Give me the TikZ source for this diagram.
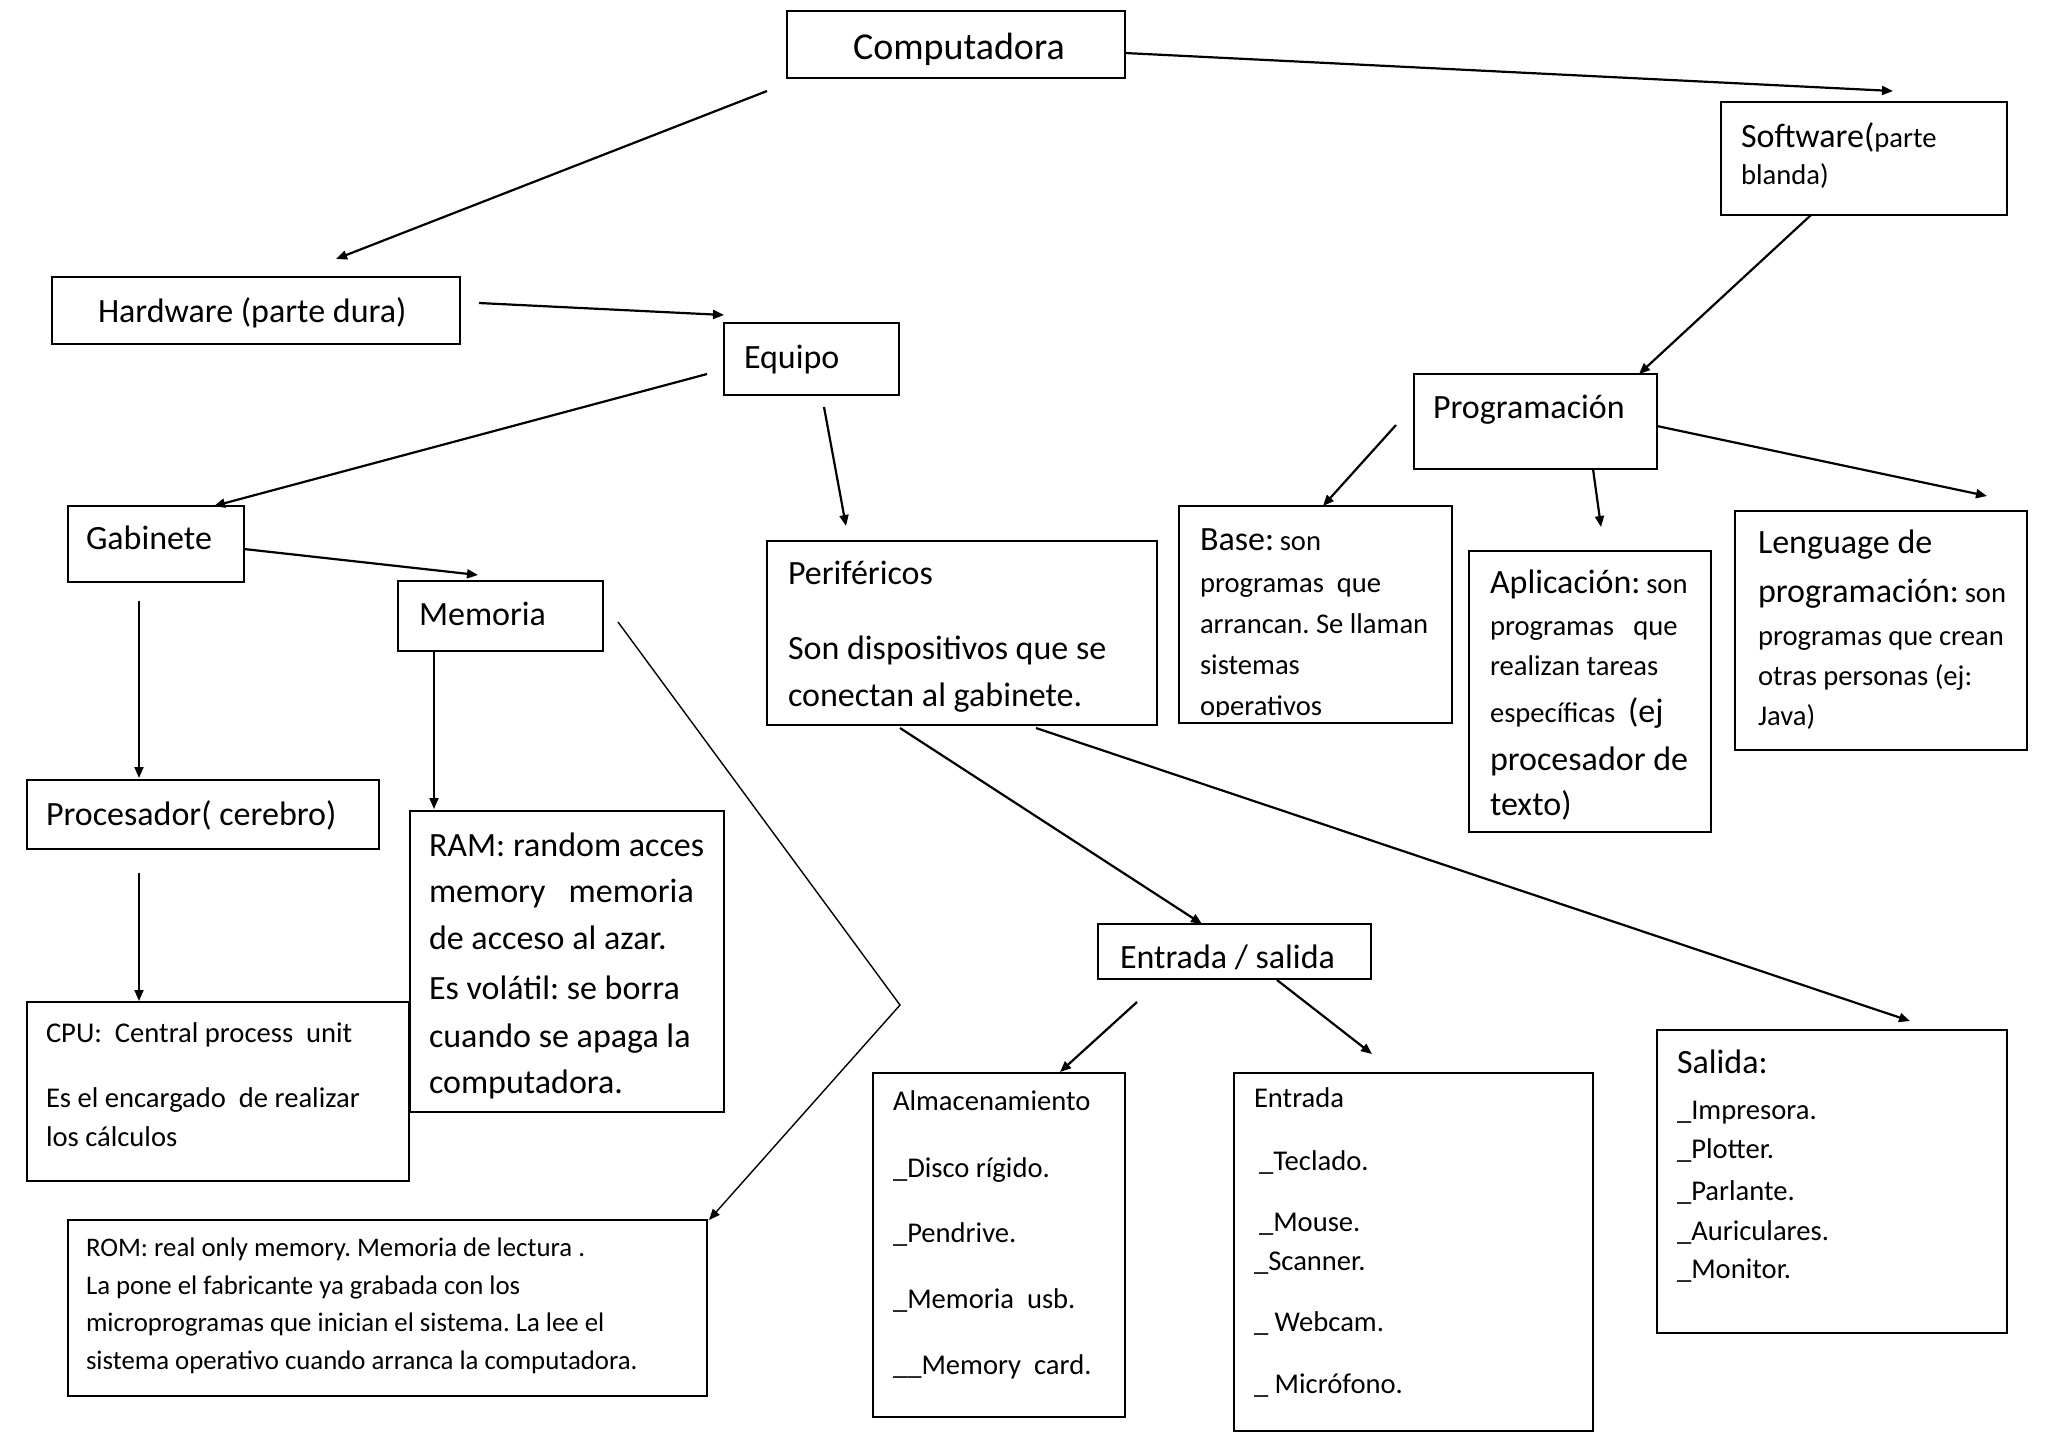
\documentclass[tikz,border=0pt]{standalone}
\usepackage{fontspec}
\setmainfont{Carlito}
\usetikzlibrary{arrows.meta}
\frenchspacing
\newcommand\mkbox[5]{\node[boxst, anchor=north west, minimum width={(#4-#2)*0.5pt}, minimum height={(#5-#3)*0.5pt}] (#1) at (#2,#3) {};}
\begin{document}
\frenchspacing
\begin{tikzpicture}[x=0.5pt,y=-0.5pt,
  boxst/.style={draw=black, line width=1pt, inner sep=0pt, outer sep=0pt},
  txt/.style={anchor=base west, inner sep=0pt, outer sep=0pt},
  big/.style={txt, font=\fontsize{17}{20}\selectfont},
  sm/.style={txt, font=\fontsize{14.3}{17}\selectfont},
  rom/.style={txt, font=\fontsize{13.4}{16}\selectfont},
  arr/.style={line width=1.1pt, -{Triangle[length=5.5pt,width=4.5pt]}},
  thinarr/.style={line width=0.7pt, -{Triangle[length=5.5pt,width=4.5pt]}},
]
\fill[white] (0,0) rectangle (2048,1448);
\useasboundingbox (0,0) rectangle (2048,1448);

% boxes
\mkbox{comp}{787}{11}{1125}{78}
\mkbox{hard}{52}{277}{460}{344}
\mkbox{equipo}{724}{323}{899}{395}
\mkbox{gab}{68}{506}{244}{582}
\mkbox{mem}{398}{581}{603}{651}
\mkbox{peri}{767}{541}{1157}{725}
\mkbox{soft}{1721}{102}{2007}{215}
\mkbox{prog}{1414}{374}{1657}{469}
\mkbox{base}{1179}{506}{1452}{723}
\mkbox{aplic}{1469}{551}{1711}{832}
\mkbox{leng}{1735}{511}{2027}{750}
\mkbox{proc}{27}{780}{379}{849}
\mkbox{ram}{410}{811}{724}{1112}
\mkbox{cpu}{27}{1002}{409}{1181}
\mkbox{rom}{68}{1220}{707}{1396}
\mkbox{alm}{873}{1073}{1125}{1417}
\mkbox{es}{1098}{924}{1371}{979}
\mkbox{ent}{1234}{1073}{1593}{1431}
\mkbox{sal}{1657}{1030}{2007}{1333}

% texts
\node[txt, font=\fontsize{19}{22}\selectfont] (tcomp) at (853,59) {Computadora};
\node[big] (thard) at (98,322) {Hardware (parte dura)};
\node[big] (tequipo) at (744,368) {Equipo};
\node[big] (tgab) at (86,549) {Gabinete};
\node[big] (tmem) at (419,625) {Memoria};
\node[big] (tperi1) at (788,584) {Periféricos};
\node[big] (tperi2) at (788,659) {Son dispositivos que se};
\node[big] (tperi3) at (788,706) {conectan al gabinete.};
\node[big] (tsoft1) at (1741,147) {Software({\fontsize{14.3}{17}\selectfont parte}};
\node[sm] (tsoft2) at (1741,184) {blanda)};
\node[big] (tprog) at (1433,418) {Programación};

\node[big] (tbase1) at (1200,550) {Base:\,{\fontsize{14.3}{17}\selectfont son}};
\node[sm] (tbase2) at (1200,592) {programas\ \ que};
\node[sm] (tbase3) at (1200,633) {arrancan. Se llaman};
\node[sm] (tbase4) at (1200,674) {sistemas};
\begin{scope}
\clip (1179,506) rectangle (1452,716);
\node[sm] (tbase5) at (1200,715) {operativos};
\end{scope}

\node[big] (tap1) at (1490,593) {Aplicación:\,{\fontsize{14.3}{17}\selectfont son}};
\node[sm] (tap2) at (1490,635) {programas\ \ \ que};
\node[sm] (tap3) at (1490,675) {realizan tareas};
\node[sm] (tap4) at (1490,722) {específicas\ \ {\fontsize{17}{20}\selectfont(ej}};
\node[big] (tap5) at (1490,770) {procesador de};
\node[big] (tap6) at (1490,815) {texto)};

\node[big] (tle1) at (1758,553) {Lenguage de};
\node[big] (tle2) at (1758,602) {programación:\,{\fontsize{14.3}{17}\selectfont son}};
\node[sm] (tle3) at (1758,645) {programas que crean};
\node[sm] (tle4) at (1758,685) {otras personas (ej:};
\node[sm] (tle5) at (1758,725) {Java)};

\node[big] (tproc) at (46,825) {Procesador( cerebro)};

\node[big] (tram1) at (429,856) {RAM: random acces};
\node[big] (tram2) at (429,902) {memory\ \ \ memoria};
\node[big] (tram3) at (429,949) {de acceso al azar.};
\node[big] (tram4) at (429,999) {Es volátil: se borra};
\node[big] (tram5) at (429,1047) {cuando se apaga la};
\node[big] (tram6) at (429,1093) {computadora.};

\node[sm] (tcpu1) at (46,1042) {CPU:\ \ Central process\ \ unit};
\node[sm] (tcpu2) at (46,1107) {Es el encargado\ \ de realizar};
\node[sm] (tcpu3) at (46,1146) {los cálculos};

\node[rom] (trom1) at (86,1256) {ROM: real only memory. Memoria de lectura .};
\node[rom] (trom2) at (86,1294) {La pone el fabricante ya grabada con los};
\node[rom] (trom3) at (86,1331) {microprogramas que inician el sistema. La lee el};
\node[rom] (trom4) at (86,1369) {sistema operativo cuando arranca la computadora.};

\node[sm] (talm1) at (893,1110) {Almacenamiento};
\node[sm] (talm2) at (893,1177) {\_Disco rígido.};
\node[sm] (talm3) at (893,1242) {\_Pendrive.};
\node[sm] (talm4) at (893,1308) {\_Memoria\ \ usb.};
\node[sm] (talm5) at (893,1374) {\_\_Memory\ \ card.};

\node[big] (tes) at (1120,968) {Entrada / salida};

\node[sm] (tent1) at (1254,1107) {Entrada};
\node[sm] (tent2) at (1259,1170) {\_Teclado.};
\node[sm] (tent3) at (1259,1231) {\_Mouse.};
\node[sm] (tent4) at (1254,1270) {\_Scanner.};
\node[sm] (tent5) at (1254,1331) {\_ Webcam.};
\node[sm] (tent6) at (1254,1393) {\_ Micrófono.};

\node[big] (tsal1) at (1677,1073) {Salida:};
\node[sm] (tsal2) at (1677,1119) {\_Impresora.};
\node[sm] (tsal3) at (1677,1158) {\_Plotter.};
\node[sm] (tsal4) at (1677,1200) {\_Parlante.};
\node[sm] (tsal5) at (1677,1240) {\_Auriculares.};
\node[sm] (tsal6) at (1677,1278) {\_Monitor.};

% connector end points
\coordinate (c1a) at (767,91);   \coordinate (c1b) at (336,259);
\coordinate (c2a) at (1125,53);  \coordinate (c2b) at (1893,91);
\coordinate (c3a) at (479,303);  \coordinate (c3b) at (724,315);
\coordinate (c4a) at (707,374);  \coordinate (c4b) at (214,506);
\coordinate (c5a) at (824,407);  \coordinate (c5b) at (846,526);
\coordinate (c6a) at (244,549);  \coordinate (c6b) at (478,575);
\coordinate (c7a) at (139,601);  \coordinate (c7b) at (139,778);
\coordinate (c8a) at (434,651);  \coordinate (c8b) at (434,809);
\coordinate (c9a) at (139,873);  \coordinate (c9b) at (139,1001);
\coordinate (c10a) at (618,622); \coordinate (c10m) at (900,1005); \coordinate (c10b) at (709,1220);
\coordinate (c11a) at (1811,215); \coordinate (c11b) at (1639,374);
\coordinate (c12a) at (1396,425); \coordinate (c12b) at (1323,506);
\coordinate (c13a) at (1593,469); \coordinate (c13b) at (1601,527);
\coordinate (c14a) at (1657,426); \coordinate (c14b) at (1987,496);
\coordinate (c15a) at (900,728);  \coordinate (c15b) at (1202,924);
\coordinate (c16a) at (1036,728); \coordinate (c16b) at (1910,1021);
\coordinate (c17a) at (1137,1002); \coordinate (c17b) at (1060,1072);
\coordinate (c18a) at (1277,980);  \coordinate (c18b) at (1372,1054);

\draw[arr] (c1a) -- (c1b);
\draw[arr] (c2a) -- (c2b);
\draw[arr] (c3a) -- (c3b);
\draw[arr] (c4a) -- (c4b);
\draw[arr] (c5a) -- (c5b);
\draw[arr] (c6a) -- (c6b);
\draw[arr, line width=0.9pt] (c7a) -- (c7b);
\draw[arr, line width=0.9pt] (c8a) -- (c8b);
\draw[arr, line width=0.9pt] (c9a) -- (c9b);
\draw[thinarr] (c10a) -- (c10m) -- (c10b);
\draw[arr] (c11a) -- (c11b);
\draw[arr] (c12a) -- (c12b);
\draw[arr] (c13a) -- (c13b);
\draw[arr] (c14a) -- (c14b);
\draw[arr] (c15a) -- (c15b);
\draw[arr] (c16a) -- (c16b);
\draw[arr] (c17a) -- (c17b);
\draw[arr] (c18a) -- (c18b);
\end{tikzpicture}
\end{document}
